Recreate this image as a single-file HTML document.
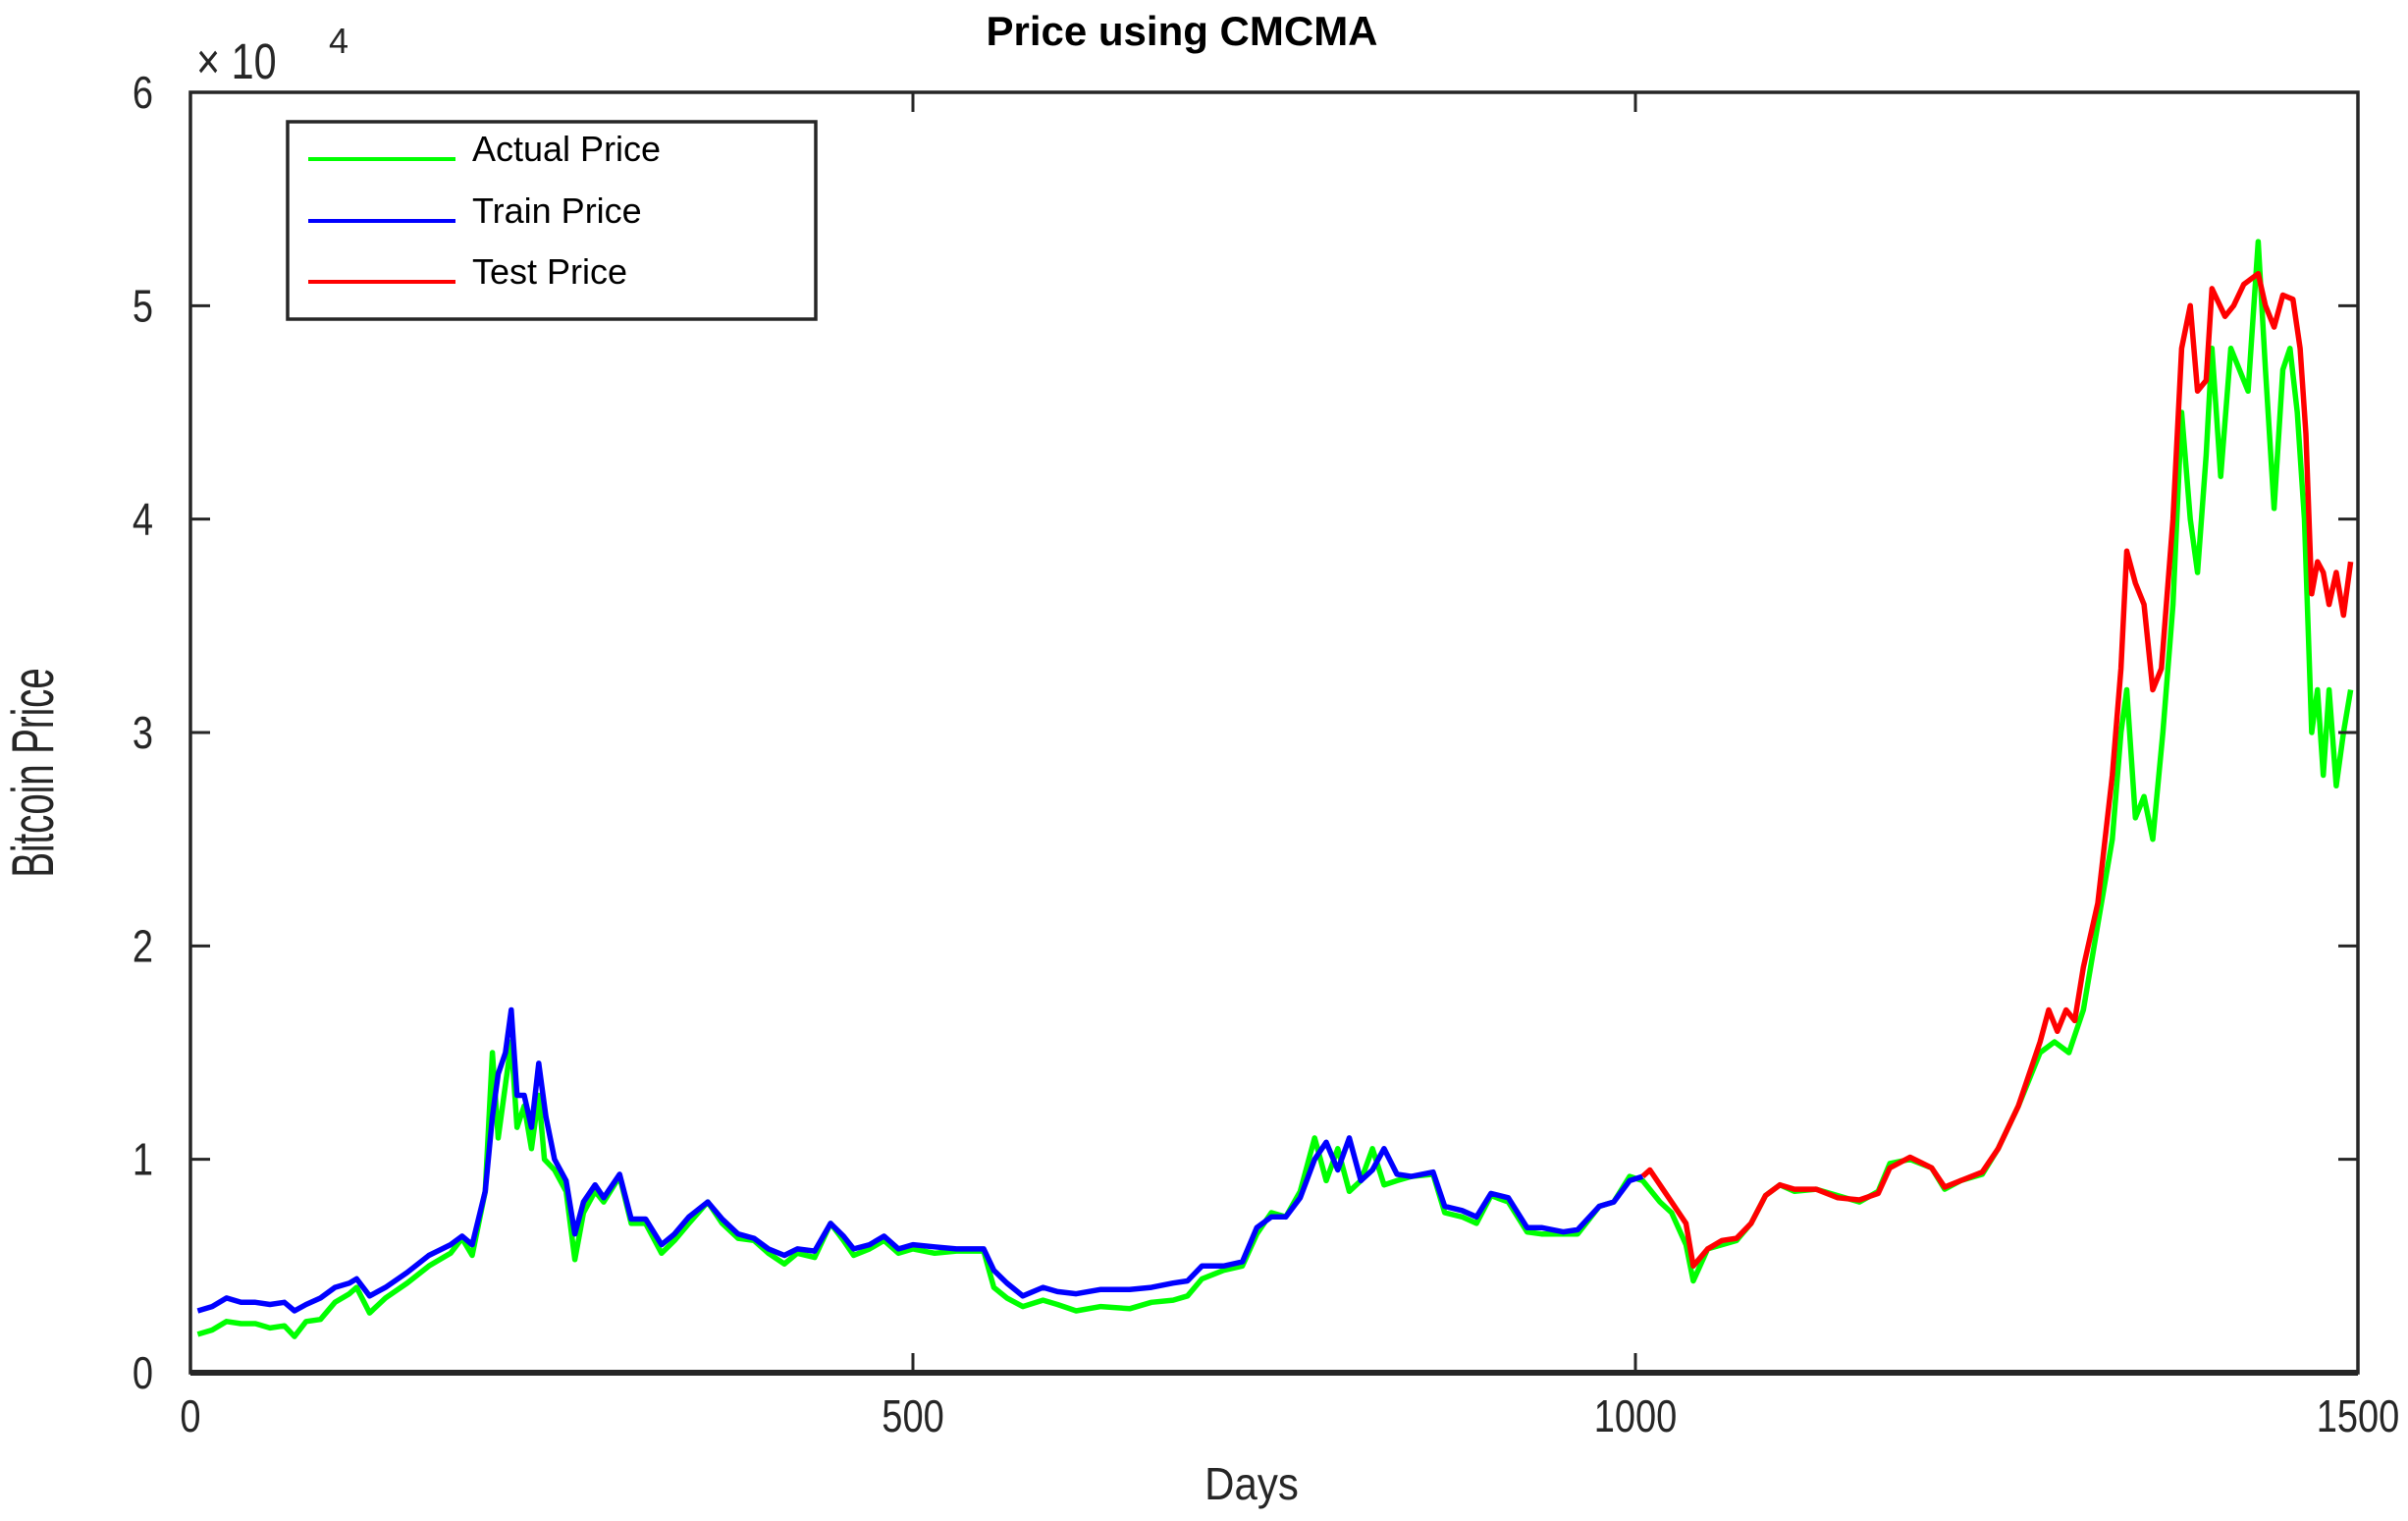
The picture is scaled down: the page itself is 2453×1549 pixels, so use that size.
<!DOCTYPE html>
<html><head><meta charset="utf-8"><style>
html,body{margin:0;padding:0;background:#fff;}
svg{display:block;font-family:"Liberation Sans",Arial,sans-serif;}
</style></head><body>
<svg id="chart" width="2453" height="1549" viewBox="0 0 2453 1549" xmlns="http://www.w3.org/2000/svg">
<rect width="2453" height="1549" fill="#fff"/>
<text x="1204" y="46" font-size="42" font-weight="bold" text-anchor="middle" fill="#000">Price using CMCMA</text>
<g id="series"></g>
<rect x="194" y="94" width="2208" height="1304" fill="none" stroke="#262626" stroke-width="3.5"/>
<line x1="194" y1="1398" x2="2402" y2="1398" stroke="#262626" stroke-width="6"/>
<g id="ticks"></g>
<text x="200" y="80" font-size="46" fill="#262626" transform="translate(200,80) scale(0.9,1.1) translate(-200,-80)">× 10</text>
<text x="335" y="54" font-size="36" fill="#262626">4</text>
<text transform="translate(1275,1527) scale(1,1.1)" font-size="42" text-anchor="middle" fill="#262626">Days</text>
<text transform="translate(54,787) rotate(-90) scale(0.8,1.25)" font-size="48" text-anchor="middle" fill="#262626">Bitcoin Price</text>
<g>
<rect x="293" y="124" width="538" height="201" fill="#fff" stroke="#262626" stroke-width="3.5"/>
<line x1="314" y1="162" x2="464" y2="162" stroke="#00ff00" stroke-width="4"/>
<text x="481" y="164" font-size="36" fill="#000">Actual Price</text>
<line x1="314" y1="225" x2="464" y2="225" stroke="#0000ff" stroke-width="4"/>
<text x="481" y="227" font-size="36" fill="#000">Train Price</text>
<line x1="314" y1="287" x2="464" y2="287" stroke="#ff0000" stroke-width="4"/>
<text x="481" y="289" font-size="36" fill="#000">Test Price</text>
</g>
</svg>
<script>
const xTicks = [0, 500, 1000, 1500];
const yTicks = [0, 1, 2, 3, 4, 5, 6];
const actualDays = [5,15,25,35,45,55,65,72,80,90,100,110,115,124,135,150,165,180,188,195,204,209,213,218,222,226,231,236,241,245,252,260,266,272,280,286,297,305,315,326,335,345,358,368,379,390,400,411,420,432,443,452,459,470,480,490,500,515,530,549,556,565,576,590,600,613,630,650,665,680,690,700,715,728,738,748,758,768,778,786,794,802,810,818,826,835,845,860,868,880,890,900,912,925,935,950,960,975,985,996,1005,1017,1025,1035,1040,1050,1060,1070,1080,1090,1100,1110,1125,1140,1155,1168,1176,1190,1205,1214,1225,1240,1251,1265,1280,1290,1300,1310,1320,1330,1336,1340,1346,1352,1358,1365,1372,1378,1384,1389,1395,1399,1405,1412,1418,1424,1431,1436,1442,1448,1453,1458,1463,1468,1472,1476,1480,1485,1490,1495];
const actualValues = [1.8,2.0,2.4,2.3,2.3,2.1,2.2,1.7,2.4,2.5,3.3,3.7,4.0,2.8,3.5,4.2,5.0,5.6,6.3,5.5,8.5,15,11,13.5,15.5,11.5,12.5,10.5,13,10,9.5,8.5,5.3,7.5,8.5,8.0,9.2,7.0,7.0,5.6,6.2,7.0,8.0,7.0,6.3,6.2,5.6,5.1,5.6,5.4,7.0,6.2,5.5,5.8,6.2,5.6,5.8,5.6,5.7,5.7,4.0,3.5,3.1,3.4,3.2,2.9,3.1,3.0,3.3,3.4,3.6,4.4,4.8,5.0,6.5,7.5,7.3,8.5,11.0,9.0,10.5,8.5,9.0,10.5,8.8,9.0,9.2,9.3,7.5,7.3,7.0,8.3,8.0,6.6,6.5,6.5,6.5,7.8,8.0,9.2,9.0,8.0,7.5,6.0,4.3,5.8,6.0,6.2,7.0,8.3,8.8,8.5,8.6,8.3,8.0,8.5,9.8,10.0,9.6,8.6,9.0,9.3,10.5,12.5,15.0,15.5,15.0,17.0,21,25,30,32,26,27,25,30,36,45,40,37.5,43,48,42,48,47,46,53,47,40.5,47,48,45,40,30,32,28,32,27.5,30,32];
const trainDays = [5,15,25,35,45,55,65,72,80,90,100,110,115,124,135,150,165,180,188,195,204,209,213,218,222,226,231,236,241,246,252,260,266,272,280,286,297,305,315,326,335,345,358,368,379,390,400,411,420,432,443,452,459,470,480,490,500,515,530,549,556,565,576,590,600,613,630,650,665,680,690,700,715,728,738,748,758,768,778,786,794,802,810,818,826,835,845,860,868,880,890,900,912,925,935,950,960,975,985,996,1005];
const trainValues = [2.9,3.1,3.5,3.3,3.3,3.2,3.3,2.9,3.2,3.5,4.0,4.2,4.4,3.6,4.0,4.7,5.5,6.0,6.4,6.0,8.5,12,14,15,17,13,13,11.5,14.5,12,10,9,6.5,8,8.8,8.2,9.3,7.2,7.2,6.0,6.5,7.3,8.0,7.2,6.5,6.3,5.8,5.5,5.8,5.7,7.0,6.4,5.8,6.0,6.4,5.8,6.0,5.9,5.8,5.8,4.8,4.2,3.6,4.0,3.8,3.7,3.9,3.9,4.0,4.2,4.3,5.0,5.0,5.2,6.8,7.3,7.3,8.2,10.0,10.8,9.5,11.0,9.0,9.5,10.5,9.3,9.2,9.4,7.8,7.6,7.3,8.4,8.2,6.8,6.8,6.6,6.7,7.8,8.0,9.0,9.2];
const testDays = [1005,1010,1017,1025,1035,1040,1050,1060,1070,1080,1090,1100,1110,1125,1140,1155,1168,1176,1190,1205,1214,1225,1240,1251,1265,1280,1286,1292,1298,1304,1310,1320,1330,1336,1340,1346,1352,1358,1364,1372,1378,1384,1389,1395,1399,1408,1414,1421,1431,1436,1442,1448,1455,1460,1464,1468,1472,1476,1480,1485,1490,1495];
const testValues = [9.2,9.5,8.8,8.0,7.0,5.0,5.8,6.2,6.3,7.0,8.3,8.8,8.6,8.6,8.2,8.1,8.4,9.6,10.1,9.6,8.7,9.0,9.4,10.5,12.5,15.5,17,16,17,16.5,19,22,28,33,38.5,37,36,32,33,40,48,50,46,46.5,50.8,49.5,50,51,51.5,50,49,50.5,50.3,48,44,36.5,38,37.5,36,37.5,35.5,38];

const X0=194, X1=2402, Y0=1398, Y1=94;
function xs(d){return X0+(d-0)/(1500-0)*(X1-X0);}
// series values are in thousands; axis units are 1e4
function ys(v){return Y0-(v-0)/(60-0)*(Y0-Y1);}
function yt(t){return Y0-(t-0)/(6-0)*(Y0-Y1);}
const NS="http://www.w3.org/2000/svg";
const g=document.getElementById('series');
function drawLine(days, vals, color, name){
  let d='';
  for(let i=0;i<days.length;i++){d+=(i?'L':'M')+xs(days[i]).toFixed(1)+' '+ys(vals[i]).toFixed(1);}
  const p=document.createElementNS(NS,'path');
  p.setAttribute('d',d);p.setAttribute('fill','none');p.setAttribute('stroke',color);
  p.setAttribute('stroke-width','5.5');p.setAttribute('stroke-linejoin','round');
  
  
  g.appendChild(p);
}
drawLine(actualDays, actualValues, '#00ff00', 'actual-price-line');
drawLine(trainDays, trainValues, '#0000ff', 'train-price-line');
drawLine(testDays, testValues, '#ff0000', 'test-price-line');

const t=document.getElementById('ticks');
function ln(x1,y1,x2,y2){const l=document.createElementNS(NS,'line');l.setAttribute('x1',x1);l.setAttribute('y1',y1);l.setAttribute('x2',x2);l.setAttribute('y2',y2);l.setAttribute('stroke','#262626');l.setAttribute('stroke-width','3');


t.appendChild(l);}
function tx(x,y,s,anchor,name){const e=document.createElementNS(NS,'text');e.setAttribute('font-size','40');e.setAttribute('fill','#262626');e.setAttribute('text-anchor',anchor);e.setAttribute('transform','translate('+x+','+y+') scale(0.95,1.15)');e.textContent=s;


t.appendChild(e);}
xTicks.forEach(v=>{const x=xs(v);ln(x,Y0,x,Y0-20);ln(x,Y1,x,Y1+20);tx(x,1458,String(v),'middle','x-tick-label');});
yTicks.forEach(v=>{const y=yt(v);ln(X0,y,X0+20,y);ln(X1,y,X1-20,y);tx(156,y+16,String(v),'end','y-tick-label');});
</script>
</body></html>
